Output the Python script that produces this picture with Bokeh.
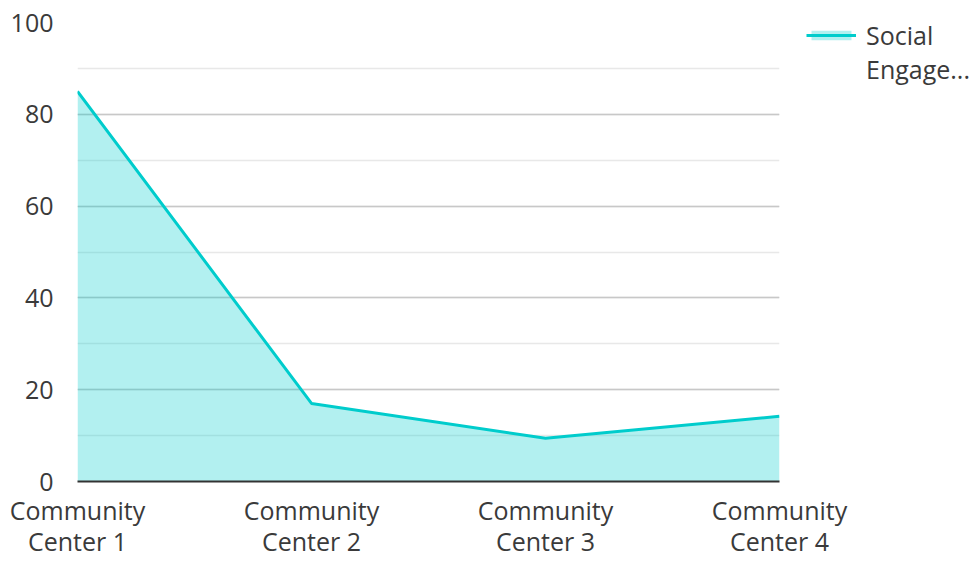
from bokeh.plotting import figure
from bokeh.models import Range1d, SingleIntervalTicker, FixedTicker, Legend, LegendItem
from bokeh.embed import file_html
from bokeh.resources import INLINE

categories = ["Community\nCenter 1", "Community\nCenter 2", "Community\nCenter 3", "Community\nCenter 4"]
values = [85, 17, 9.4, 14.2]
series_name_lines = ["Social", "Engage..."]
y_ticks = [0, 20, 40, 60, 80, 100]

xs = list(range(len(categories)))
FONT = "Open Sans"
TXT = "#3a3a3a"
FS = "25px"

p = figure(frame_width=702, frame_height=459, output_backend="svg", toolbar_location=None,
           x_range=Range1d(0, len(categories) - 1), y_range=Range1d(0, 100))
p.min_border_left = 77
p.min_border_top = 22
p.min_border_bottom = 1
p.min_border_right = 170
p.outline_line_color = None

area = p.varea(x=xs, y1=[0] * len(values), y2=values, fill_color="#00cccc", fill_alpha=0.3)
ln = p.line(x=xs, y=values, line_color="#00cccc", line_width=3)
blank = p.line(x=[], y=[], line_alpha=0)

p.xaxis.ticker = FixedTicker(ticks=xs)
p.xaxis.major_label_overrides = {i: c for i, c in zip(xs, categories)}
p.xaxis.axis_line_color = "#333333"
p.xaxis.axis_line_width = 2
p.xaxis.major_tick_line_color = None
p.xaxis.minor_tick_line_color = None
p.xaxis.major_label_standoff = 5
p.xaxis.major_label_text_font = FONT
p.xaxis.major_label_text_font_size = FS
p.xaxis.major_label_text_color = TXT
p.xaxis.major_label_text_line_height = 0.92

p.yaxis.ticker = SingleIntervalTicker(interval=20, num_minor_ticks=2)
p.yaxis.axis_line_color = None
p.yaxis.major_tick_line_color = None
p.yaxis.minor_tick_line_color = None
p.yaxis.major_label_standoff = 18
p.yaxis.major_label_text_font = FONT
p.yaxis.major_label_text_font_size = FS
p.yaxis.major_label_text_color = TXT

p.xgrid.grid_line_color = None
p.ygrid.ticker = p.yaxis.ticker
p.ygrid.grid_line_color = "#c8c8c8"
p.ygrid.grid_line_width = 1.5
p.ygrid.minor_grid_line_color = "#e8e8e8"
p.ygrid.minor_grid_line_width = 1.5
p.ygrid.level = "underlay"

legend = Legend(items=[LegendItem(label=series_name_lines[0], renderers=[area, ln]),
                       LegendItem(label=series_name_lines[1], renderers=[blank])])
legend.border_line_color = None
legend.background_fill_color = None
legend.label_text_font = FONT
legend.label_text_font_size = FS
legend.label_text_color = TXT
legend.glyph_width = 50
legend.glyph_height = 12
legend.padding = 0
legend.spacing = 0
legend.margin = 0
legend.label_standoff = 10
p.add_layout(legend, "right")
legend.location = (27, 395)

open("out.html", "w").write(file_html(p, INLINE))
